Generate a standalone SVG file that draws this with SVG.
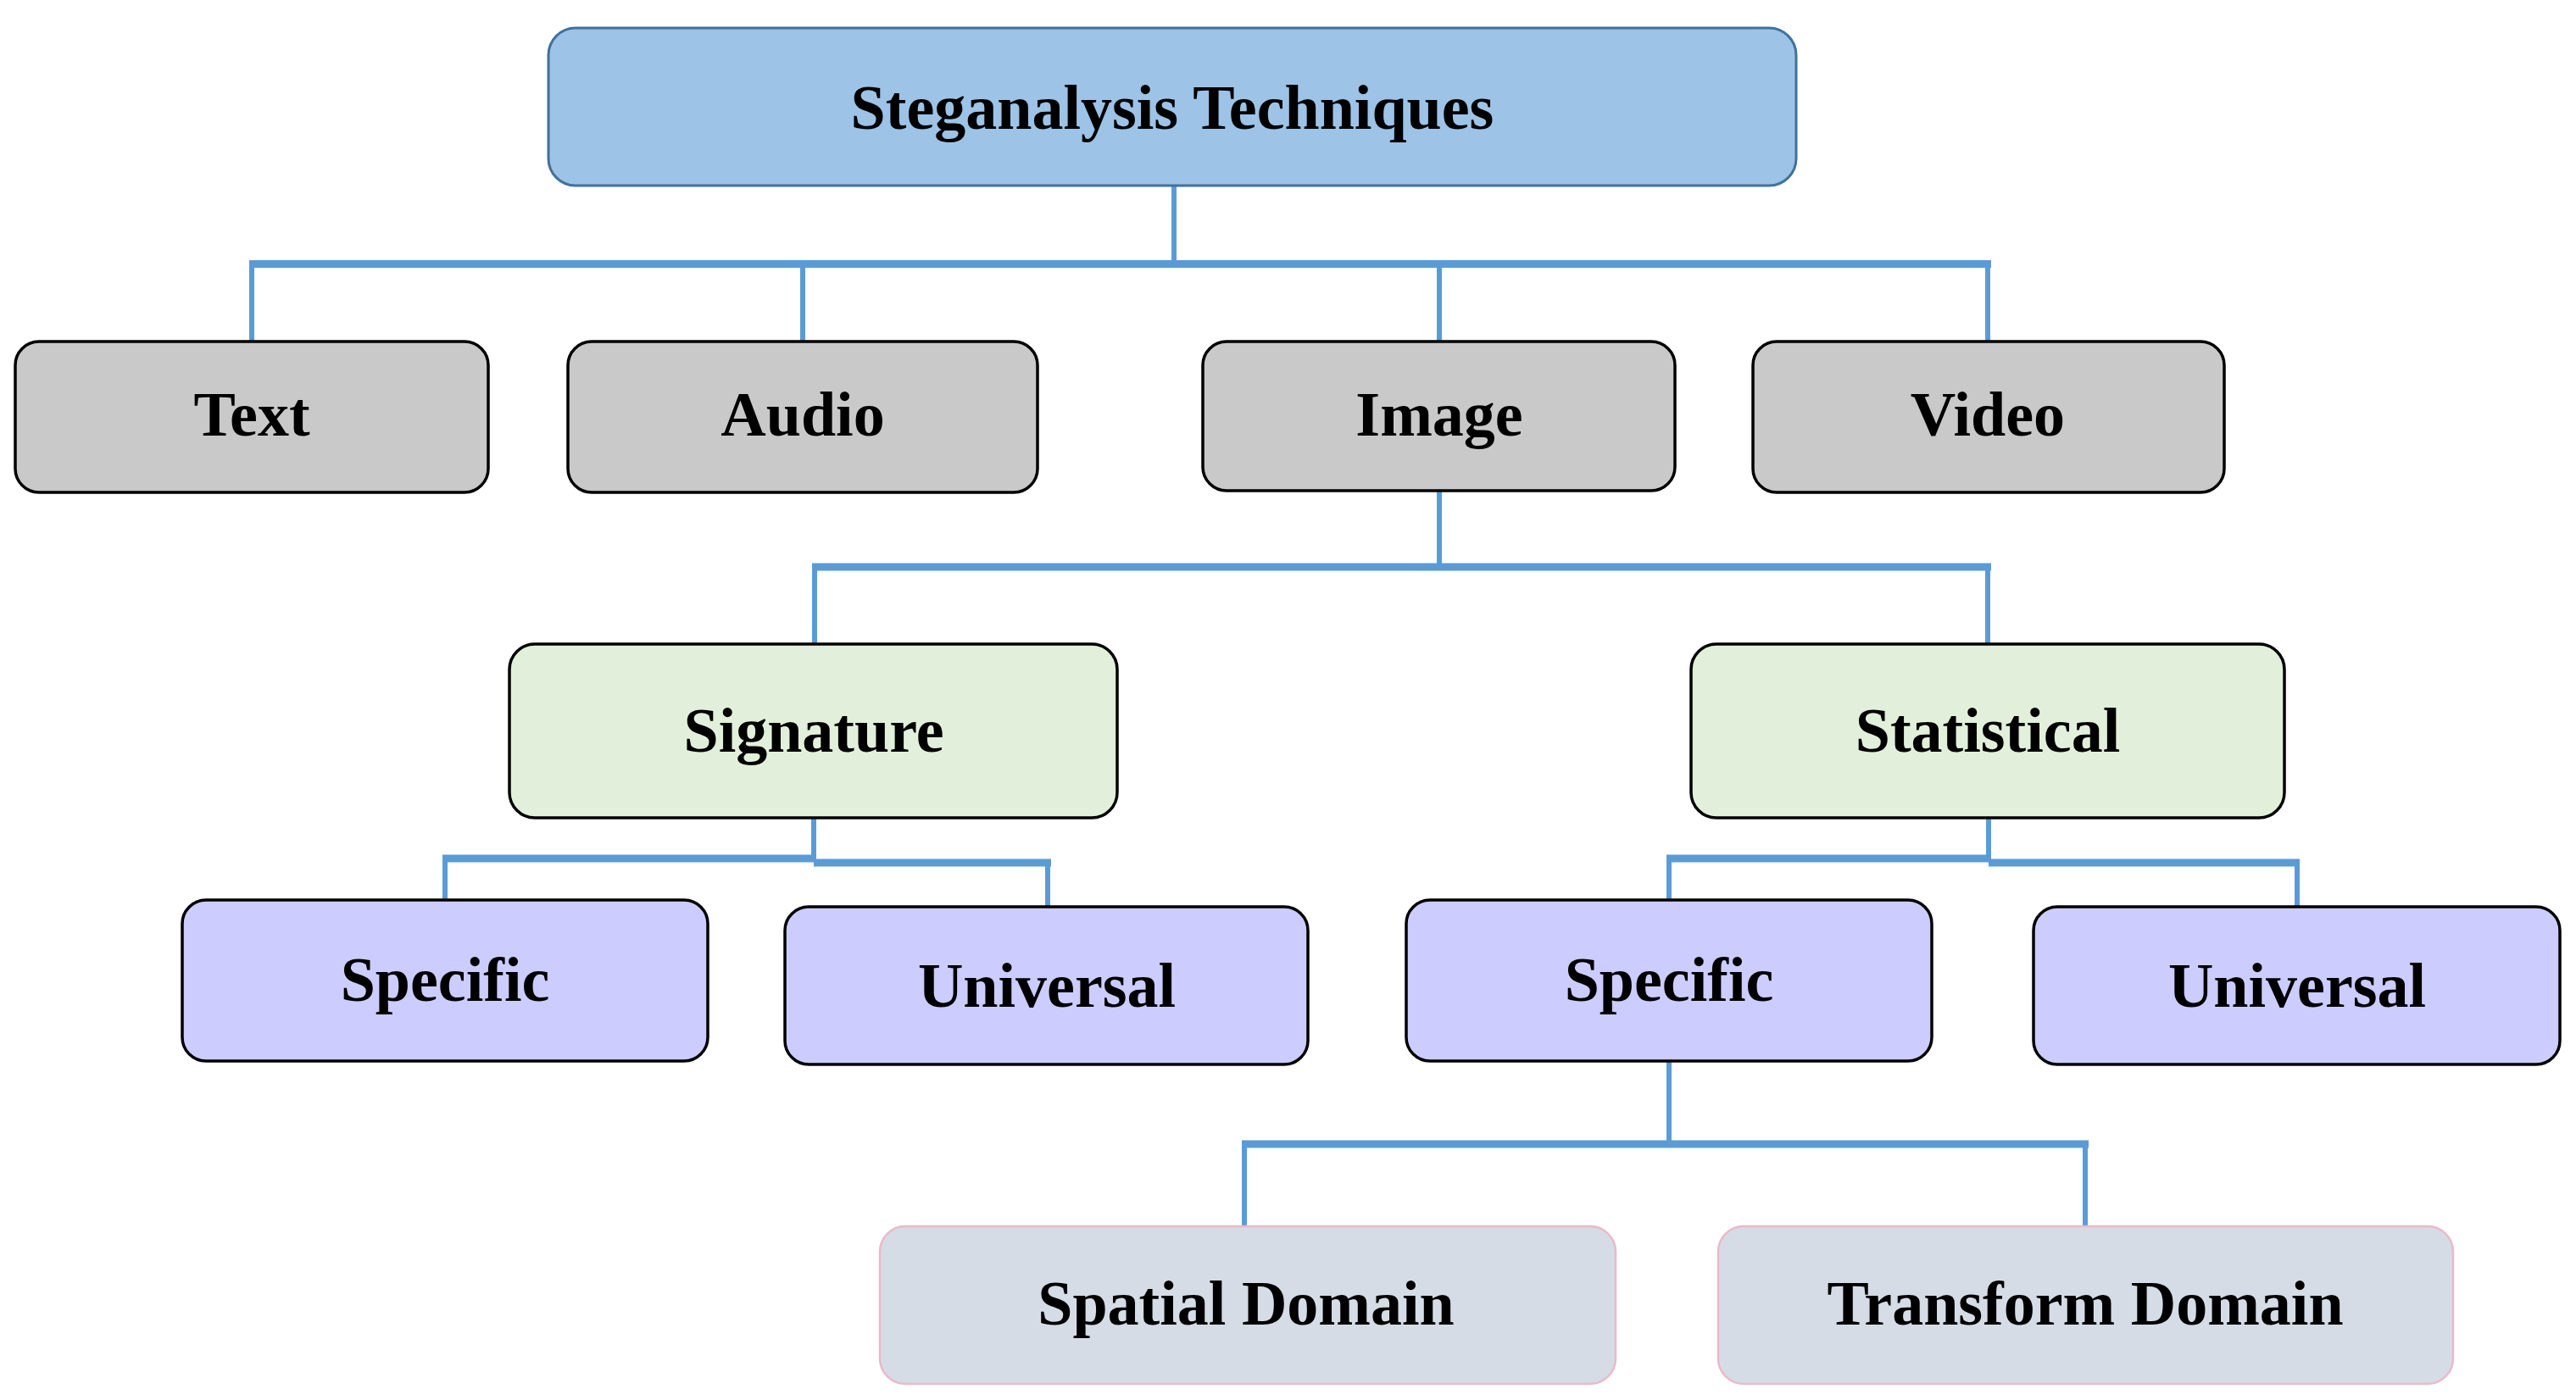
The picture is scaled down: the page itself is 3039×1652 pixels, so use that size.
<svg xmlns="http://www.w3.org/2000/svg" width="3039" height="1652" viewBox="0 0 3039 1652">
<style>
.lbl{font-family:"Liberation Serif","Times New Roman",serif;font-weight:bold;font-size:74px;fill:#000;text-anchor:middle}
.root{fill:#9DC3E6;stroke:#41719C;stroke-width:3}
.media{fill:#C9C9C9;stroke:#000;stroke-width:3.5}
.type{fill:#E2EFDA;stroke:#000;stroke-width:3.5}
.sub{fill:#CCCCFF;stroke:#000;stroke-width:3.5}
.dom{fill:#D6DCE5;stroke:#EBB9C8;stroke-width:2.5}
.v{stroke:#5B9BD5;stroke-width:6;fill:none}
.h{stroke:#5B9BD5;stroke-width:9;fill:none}
</style>
<rect width="3039" height="1652" fill="#FFFFFF"/>
<g id="connectors">
<path class="v" d="M1385 219V311"/>
<path class="h" d="M294 311.5H2349"/>
<path class="v" d="M297 311V403M947 311V403M1698 311V403M2345 311V403"/>
<path class="v" d="M1698 579V669"/>
<path class="h" d="M958 669H2349"/>
<path class="v" d="M961 669V760M2345 669V760"/>
<path class="v" d="M960 965V1014"/>
<path class="h" d="M522 1013H960M960 1018H1240"/>
<path class="v" d="M525 1013V1062M1236 1018V1070"/>
<path class="v" d="M2346 965V1014"/>
<path class="h" d="M1966 1013H2346M2346 1018H2713"/>
<path class="v" d="M1969 1013V1062M2710 1018V1070"/>
<path class="v" d="M1969 1252V1350"/>
<path class="h" d="M1465 1350H2464"/>
<path class="v" d="M1468 1350V1447M2460 1350V1447"/>
</g>
<g id="node-root"><rect class="root" x="647" y="33" width="1472" height="186" rx="32"/><text class="lbl" x="1383" y="152">Steganalysis Techniques</text></g>
<g id="node-text"><rect class="media" x="18" y="403" width="558" height="178" rx="28"/><text class="lbl" x="297" y="514">Text</text></g>
<g id="node-audio"><rect class="media" x="670" y="403" width="554" height="178" rx="28"/><text class="lbl" x="947" y="514">Audio</text></g>
<g id="node-image"><rect class="media" x="1419" y="403" width="557" height="176" rx="28"/><text class="lbl" x="1698" y="514">Image</text></g>
<g id="node-video"><rect class="media" x="2068" y="403" width="556" height="178" rx="28"/><text class="lbl" x="2345" y="514">Video</text></g>
<g id="node-signature"><rect class="type" x="601" y="760" width="717" height="205" rx="30"/><text class="lbl" x="960" y="887">Signature</text></g>
<g id="node-statistical"><rect class="type" x="1995" y="760" width="700" height="205" rx="30"/><text class="lbl" x="2345" y="887">Statistical</text></g>
<g id="node-sig-specific"><rect class="sub" x="215" y="1062" width="620" height="190" rx="28"/><text class="lbl" x="525" y="1181">Specific</text></g>
<g id="node-sig-universal"><rect class="sub" x="926" y="1070" width="617" height="186" rx="28"/><text class="lbl" x="1235" y="1188">Universal</text></g>
<g id="node-stat-specific"><rect class="sub" x="1659" y="1062" width="620" height="190" rx="28"/><text class="lbl" x="1969" y="1181">Specific</text></g>
<g id="node-stat-universal"><rect class="sub" x="2399" y="1070" width="621" height="186" rx="28"/><text class="lbl" x="2710" y="1188">Universal</text></g>
<g id="node-spatial"><rect class="dom" x="1038" y="1447" width="868" height="186" rx="30"/><text class="lbl" x="1470" y="1563">Spatial Domain</text></g>
<g id="node-transform"><rect class="dom" x="2027" y="1447" width="867" height="186" rx="30"/><text class="lbl" x="2460" y="1563">Transform Domain</text></g>
</svg>
